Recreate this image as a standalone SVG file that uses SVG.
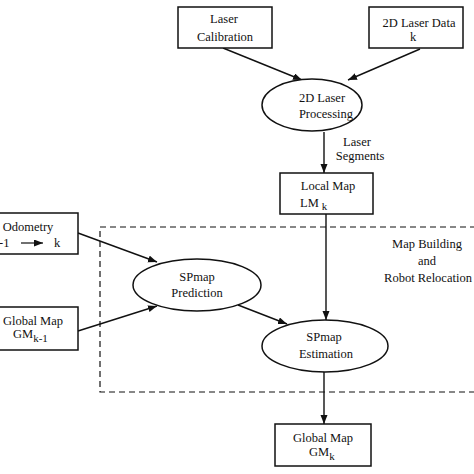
<svg xmlns="http://www.w3.org/2000/svg" width="474" height="474" viewBox="0 0 474 474">
<defs>
<style>
.box{fill:#fff;stroke:#111;stroke-width:1.5}
.ell{fill:#fff;stroke:#111;stroke-width:1.5}
.t{font-family:"Liberation Serif","Times New Roman",serif;font-size:12.5px;fill:#111;text-anchor:middle}
.tl{font-family:"Liberation Serif","Times New Roman",serif;font-size:12.5px;fill:#111}
.c{stroke:#111;stroke-width:1.4;fill:none;marker-end:url(#ah)}
.dash{fill:none;stroke:#111;stroke-width:1.2;stroke-dasharray:6 4}
</style>
<marker id="ah" markerUnits="userSpaceOnUse" markerWidth="10" markerHeight="8" refX="9" refY="3.5" orient="auto">
<path d="M0,0 L9,3.5 L0,7 z" fill="#111"/>
</marker>
</defs>
<rect width="474" height="474" fill="#fff"/>
<g id="region">
<rect class="dash" x="100" y="227" width="400" height="165"/>
<text class="t" x="427" y="248">Map Building</text>
<text class="t" x="427" y="265">and</text>
<text class="t" x="428" y="282">Robot Relocation</text>
</g>
<g id="connectors">
<line class="c" x1="223" y1="48" x2="302" y2="80"/>
<line class="c" x1="420" y1="49" x2="348" y2="80"/>
<line class="c" x1="324" y1="132" x2="324" y2="173"/>
<line class="c" x1="326" y1="214" x2="326" y2="320"/>
<line class="c" x1="78" y1="233" x2="157" y2="262"/>
<line class="c" x1="78" y1="331" x2="157" y2="306"/>
<line class="c" x1="238" y1="305" x2="287" y2="324"/>
<line class="c" x1="324" y1="372" x2="324" y2="424"/>
<text class="t" x="357" y="146">Laser</text>
<text class="t" x="360" y="160">Segments</text>
</g>
<g id="laser-calibration">
<rect class="box" x="178" y="7" width="94" height="41"/>
<text class="t" x="224" y="23">Laser</text>
<text class="t" x="225" y="41">Calibration</text>
</g>
<g id="laser-data">
<rect class="box" x="369" y="7" width="94" height="41"/>
<text class="t" x="419" y="27">2D Laser Data</text>
<text class="t" x="413" y="41">k</text>
</g>
<g id="laser-processing">
<ellipse class="ell" cx="312" cy="105" rx="50" ry="26"/>
<text class="t" x="322" y="102">2D Laser</text>
<text class="t" x="326" y="118">Processing</text>
</g>
<g id="local-map">
<rect class="box" x="280" y="173" width="93" height="41"/>
<text class="t" x="328" y="190">Local Map</text>
<text class="tl" x="300" y="207">LM<tspan dx="3" dy="3" font-size="11">k</tspan></text>
</g>
<g id="odometry">
<rect class="box" x="-2" y="213" width="80" height="41"/>
<text class="t" x="28" y="231">Odometry</text>
<text class="tl" x="-1" y="247">-1</text>
<line x1="21" y1="243" x2="43" y2="243" stroke="#111" stroke-width="1.2" marker-end="url(#ah)"/>
<text class="tl" x="54" y="247">k</text>
</g>
<g id="global-map-prev">
<rect class="box" x="-2" y="307" width="80" height="43"/>
<text class="t" x="33" y="325">Global Map</text>
<text class="tl" x="13" y="338">GM<tspan dy="4" font-size="11">k-1</tspan></text>
</g>
<g id="spmap-prediction">
<ellipse class="ell" cx="197" cy="285" rx="64" ry="26"/>
<text class="t" x="197" y="281">SPmap</text>
<text class="t" x="197" y="297">Prediction</text>
</g>
<g id="spmap-estimation">
<ellipse class="ell" cx="325" cy="346" rx="63" ry="26"/>
<text class="t" x="324" y="341">SPmap</text>
<text class="t" x="326" y="358">Estimation</text>
</g>
<g id="global-map">
<rect class="box" x="275" y="424" width="96" height="42"/>
<text class="t" x="323" y="442">Global Map</text>
<text class="tl" x="309" y="456">GM<tspan dy="4" font-size="11">k</tspan></text>
</g>
</svg>
